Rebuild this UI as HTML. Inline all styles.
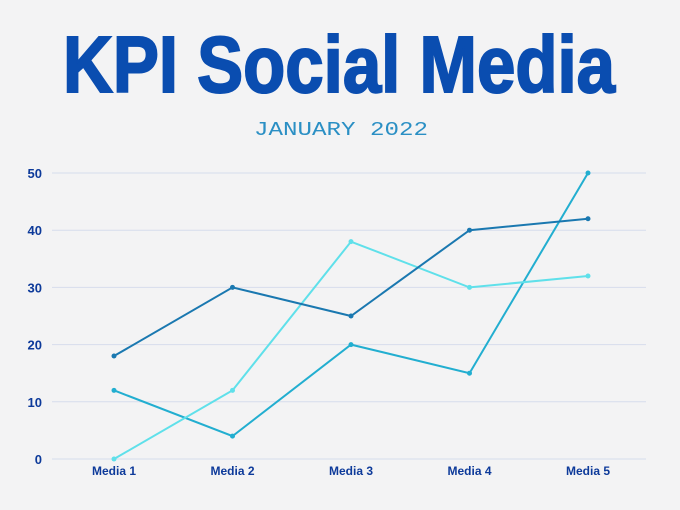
<!DOCTYPE html>
<html><head><meta charset="utf-8"><style>
body{margin:0;background:#f3f3f4;}
svg{display:block;font-family:"Liberation Sans",sans-serif;}
</style></head><body>
<svg width="680" height="510">
<rect width="680" height="510" fill="#f3f3f4"/>
<text x="63" y="92" font-size="80" font-weight="bold" fill="#0a4db0" stroke="#0a4db0" stroke-width="2" textLength="552" lengthAdjust="spacingAndGlyphs">KPI Social Media</text>
<text x="254" y="135" font-size="19" font-family="Liberation Mono,monospace" fill="#2a8fc4" textLength="174" lengthAdjust="spacingAndGlyphs">JANUARY 2022</text>
<g id="grid"></g><g id="lines"></g>
</svg>
<script>
const categories=["Media 1","Media 2","Media 3","Media 4","Media 5"];
const yTicks=[0,10,20,30,40,50];
const seriesA=[18,30,25,40,42];
const seriesB=[12,4,20,15,50];
const seriesC=[0,12,38,30,32];
const NS="http://www.w3.org/2000/svg";
const x=i=>114+i*118.5;
const y=v=>459-v*5.72;
const grid=document.getElementById('grid'),lines=document.getElementById('lines');
function mk(t,a,p){const e=document.createElementNS(NS,t);for(const k in a)e.setAttribute(k,a[k]);p.appendChild(e);return e;}
yTicks.forEach(t=>{
 const l=mk('line',{x1:52,x2:646,y1:y(t),y2:y(t),stroke:'#d6dcec','stroke-width':1},grid);
 
 
 const tx=mk('text',{x:42,y:y(t)+5,'text-anchor':'end','font-size':13,'font-weight':'bold',fill:'#0d3a9a'},grid);
 tx.textContent=t;
 
 
});
categories.forEach((c,i)=>{
 const tx=mk('text',{x:x(i),y:475,'text-anchor':'middle','font-size':12,'font-weight':'bold',fill:'#0d3a9a'},grid);
 tx.textContent=c;
 
 
});
[[seriesB,'#22aed0','series-b'],[seriesC,'#5fe0ea','series-c'],[seriesA,'#1a78b0','series-a']].forEach(([d,col,n])=>{
 const p=mk('polyline',{points:d.map((v,i)=>x(i)+','+y(v)).join(' '),fill:'none',stroke:col,'stroke-width':2},lines);
 
 
 d.forEach((v,i)=>{
  const c=mk('circle',{cx:x(i),cy:y(v),r:2.5,fill:col},lines);
  
  
 });
});
</script>
</body></html>
